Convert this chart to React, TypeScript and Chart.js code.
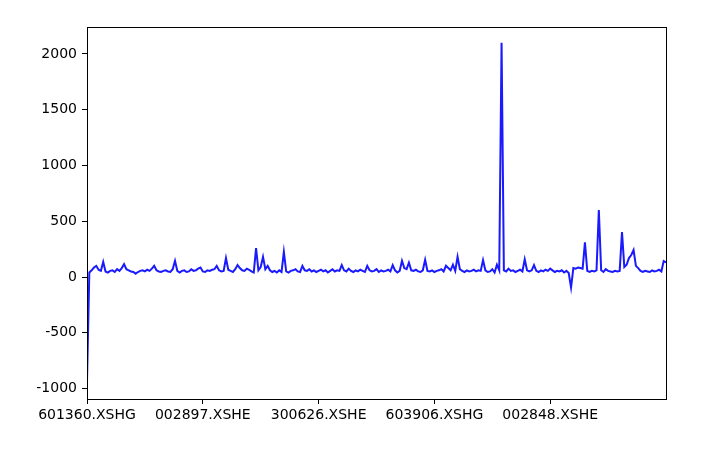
import React, { useEffect, useRef } from "react";
import { Chart, registerables } from "chart.js";

Chart.register(...registerables);

// x tick labels and their positions (index of the stock in the series)
const xTickLabels = ["601360.XSHG", "002897.XSHE", "300626.XSHE", "603906.XSHG", "002848.XSHE"];
const xTickPositions = [0, 50, 100, 150, 200];
const yTicks = [-1000, -500, 0, 500, 1000, 1500, 2000];

// series values, one per stock
const values: number[] = [
  -940,
  40, 60, 85, 100, 65, 55, 135, 50, 40, 55,
  60, 45, 70, 55, 80, 115, 70, 60, 50, 45,
  30, 45, 55, 60, 50, 65, 55, 75, 100, 60,
  50, 45, 55, 60, 50, 45, 70, 145, 55, 40,
  55, 60, 45, 50, 70, 55, 60, 75, 85, 50,
  45, 60, 55, 65, 70, 100, 60, 50, 55, 170,
  65, 55, 45, 70, 107, 80, 60, 55, 75, 65,
  50, 40, 260, 60, 90, 180, 70, 100, 60, 45,
  55, 40, 60, 45, 225, 50, 40, 55, 60, 70,
  50, 45, 100, 60, 55, 70, 50, 60, 45, 55,
  65, 50, 60, 40, 55, 70, 50, 60, 55, 107,
  60, 50, 75, 55, 45, 60, 50, 65, 55, 45,
  100, 60, 50, 55, 70, 45, 60, 50, 55, 65,
  50, 107, 60, 40, 55, 146, 80, 70, 128, 60,
  55, 65, 50, 45, 60, 155, 55, 50, 60, 45,
  55, 60, 70, 50, 100, 80, 60, 110, 55, 182,
  70, 55, 45, 60, 50, 55, 65, 50, 60, 55,
  152, 60, 45, 50, 70, 40, 110, 60, 2100, 60,
  50, 75, 55, 60, 45, 55, 65, 50, 159, 60,
  50, 60, 107, 55, 45, 60, 50, 65, 55, 75,
  60, 45, 55, 50, 60, 40, 55, 35, -95, 80,
  75, 85, 80, 75, 311, 55, 45, 55, 50, 60,
  600, 60, 45, 70, 55, 50, 45, 55, 50, 55,
  403, 90, 110, 170, 197, 242, 100, 80, 55, 45,
  55, 50, 45, 60, 50, 55, 65, 50, 143, 130,
];

const frame = {
  id: "frame",
  afterDraw(chart: any) {
    const { ctx, chartArea } = chart;
    ctx.save();
    ctx.strokeStyle = "#000";
    ctx.lineWidth = 1;
    ctx.strokeRect(
      Math.round(chartArea.left) + 0.5,
      Math.round(chartArea.top) + 0.5,
      Math.round(chartArea.right - chartArea.left),
      Math.round(chartArea.bottom - chartArea.top)
    );
    ctx.restore();
  },
};

export default function App() {
  const ref = useRef<HTMLCanvasElement | null>(null);
  useEffect(() => {
    if (!ref.current) return;
    const font = { family: "DejaVu Sans", size: 14 };
    const chart = new Chart(ref.current, {
      type: "line",
      data: {
        datasets: [
          {
            data: values.map((v, i) => ({ x: i, y: v })),
            borderColor: "#1a1aff",
            borderWidth: 2,
            pointRadius: 0,
            tension: 0,
            fill: false,
          },
        ],
      },
      options: {
        animation: false,
        responsive: false,
        maintainAspectRatio: false,
        layout: { padding: { left: 0, right: 44, top: 27, bottom: 0 } },
        plugins: { legend: { display: false }, tooltip: { enabled: false } },
        scales: {
          x: {
            type: "linear",
            min: 0,
            max: values.length - 1,
            border: { display: false },
            grid: { display: true, drawOnChartArea: false, drawTicks: true, tickLength: 5, color: "#000" },
            afterBuildTicks: (s: any) => {
              s.ticks = xTickPositions.map((v) => ({ value: v }));
            },
            afterFit: (s: any) => {
              s.height = 67;
            },
            ticks: {
              autoSkip: false,
              maxRotation: 0,
              color: "#000",
              font,
              padding: 3,
              callback: (v: any) => {
                const idx = xTickPositions.indexOf(Number(v));
                return idx >= 0 ? xTickLabels[idx] : "";
              },
            },
          },
          y: {
            type: "linear",
            min: -1094,
            max: 2242,
            border: { display: false },
            grid: { display: true, drawOnChartArea: false, drawTicks: true, tickLength: 5, color: "#000" },
            afterBuildTicks: (s: any) => {
              s.ticks = yTicks.map((v) => ({ value: v }));
            },
            afterFit: (s: any) => {
              s.width = 87;
            },
            ticks: { color: "#000", font, padding: 5, callback: (v: any) => String(v) },
          },
        },
      },
      plugins: [frame],
    });
    return () => chart.destroy();
  }, []);
  return (
    <div style={{ position: "fixed", left: 0, top: 0, width: 710, height: 466, background: "#fff" }}>
      <canvas ref={ref} width={710} height={466} style={{ display: "block" }} />
    </div>
  );
}
